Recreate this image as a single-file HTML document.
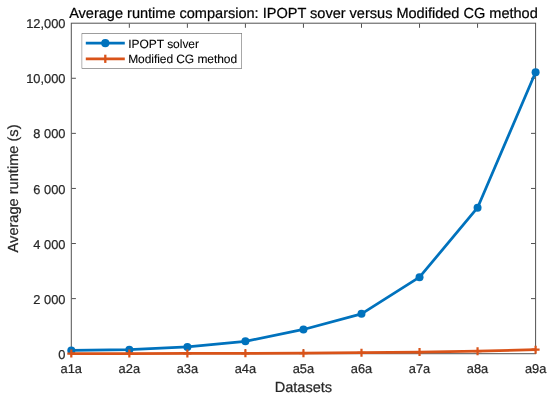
<!DOCTYPE html>
<html><head><meta charset="utf-8"><title>Average runtime comparison</title>
<style>html,body{margin:0;padding:0;background:#fff;width:550px;height:402px;overflow:hidden}</style></head>
<body>
<svg width="550" height="402" viewBox="0 0 550 402" style="position:absolute;left:0;top:0;font-family:'Liberation Sans',sans-serif;text-rendering:geometricPrecision;stroke-width:0.22px;paint-order:stroke">
<rect x="0" y="0" width="550" height="402" fill="#fff"/>
<rect x="71.3" y="23.2" width="464.3" height="330.5" fill="none" stroke="#262626" stroke-width="1" opacity="0.8"/>
<text x="71.30" y="373" font-size="12.85" fill="#262626" stroke="#262626" text-anchor="middle">a1a</text>
<line x1="129.34" y1="353.2" x2="129.34" y2="349.09999999999997" stroke="#262626" stroke-width="1" opacity="0.8"/>
<line x1="129.34" y1="23.7" x2="129.34" y2="27.799999999999997" stroke="#262626" stroke-width="1" opacity="0.8"/>
<text x="129.34" y="373" font-size="12.85" fill="#262626" stroke="#262626" text-anchor="middle">a2a</text>
<line x1="187.38" y1="353.2" x2="187.38" y2="349.09999999999997" stroke="#262626" stroke-width="1" opacity="0.8"/>
<line x1="187.38" y1="23.7" x2="187.38" y2="27.799999999999997" stroke="#262626" stroke-width="1" opacity="0.8"/>
<text x="187.38" y="373" font-size="12.85" fill="#262626" stroke="#262626" text-anchor="middle">a3a</text>
<line x1="245.41" y1="353.2" x2="245.41" y2="349.09999999999997" stroke="#262626" stroke-width="1" opacity="0.8"/>
<line x1="245.41" y1="23.7" x2="245.41" y2="27.799999999999997" stroke="#262626" stroke-width="1" opacity="0.8"/>
<text x="245.41" y="373" font-size="12.85" fill="#262626" stroke="#262626" text-anchor="middle">a4a</text>
<line x1="303.45" y1="353.2" x2="303.45" y2="349.09999999999997" stroke="#262626" stroke-width="1" opacity="0.8"/>
<line x1="303.45" y1="23.7" x2="303.45" y2="27.799999999999997" stroke="#262626" stroke-width="1" opacity="0.8"/>
<text x="303.45" y="373" font-size="12.85" fill="#262626" stroke="#262626" text-anchor="middle">a5a</text>
<line x1="361.49" y1="353.2" x2="361.49" y2="349.09999999999997" stroke="#262626" stroke-width="1" opacity="0.8"/>
<line x1="361.49" y1="23.7" x2="361.49" y2="27.799999999999997" stroke="#262626" stroke-width="1" opacity="0.8"/>
<text x="361.49" y="373" font-size="12.85" fill="#262626" stroke="#262626" text-anchor="middle">a6a</text>
<line x1="419.53" y1="353.2" x2="419.53" y2="349.09999999999997" stroke="#262626" stroke-width="1" opacity="0.8"/>
<line x1="419.53" y1="23.7" x2="419.53" y2="27.799999999999997" stroke="#262626" stroke-width="1" opacity="0.8"/>
<text x="419.53" y="373" font-size="12.85" fill="#262626" stroke="#262626" text-anchor="middle">a7a</text>
<line x1="477.56" y1="353.2" x2="477.56" y2="349.09999999999997" stroke="#262626" stroke-width="1" opacity="0.8"/>
<line x1="477.56" y1="23.7" x2="477.56" y2="27.799999999999997" stroke="#262626" stroke-width="1" opacity="0.8"/>
<text x="477.56" y="373" font-size="12.85" fill="#262626" stroke="#262626" text-anchor="middle">a8a</text>
<text x="535.60" y="373" font-size="12.85" fill="#262626" stroke="#262626" text-anchor="middle">a9a</text>
<text x="65.5" y="358.80" font-size="12.85" fill="#262626" stroke="#262626" text-anchor="end">0</text>
<line x1="71.8" y1="298.62" x2="75.89999999999999" y2="298.62" stroke="#262626" stroke-width="1" opacity="0.8"/>
<line x1="535.1" y1="298.62" x2="531.0" y2="298.62" stroke="#262626" stroke-width="1" opacity="0.8"/>
<text x="65.5" y="303.72" font-size="12.85" fill="#262626" stroke="#262626" text-anchor="end">2 000</text>
<line x1="71.8" y1="243.53" x2="75.89999999999999" y2="243.53" stroke="#262626" stroke-width="1" opacity="0.8"/>
<line x1="535.1" y1="243.53" x2="531.0" y2="243.53" stroke="#262626" stroke-width="1" opacity="0.8"/>
<text x="65.5" y="248.63" font-size="12.85" fill="#262626" stroke="#262626" text-anchor="end">4 000</text>
<line x1="71.8" y1="188.45" x2="75.89999999999999" y2="188.45" stroke="#262626" stroke-width="1" opacity="0.8"/>
<line x1="535.1" y1="188.45" x2="531.0" y2="188.45" stroke="#262626" stroke-width="1" opacity="0.8"/>
<text x="65.5" y="193.55" font-size="12.85" fill="#262626" stroke="#262626" text-anchor="end">6 000</text>
<line x1="71.8" y1="133.37" x2="75.89999999999999" y2="133.37" stroke="#262626" stroke-width="1" opacity="0.8"/>
<line x1="535.1" y1="133.37" x2="531.0" y2="133.37" stroke="#262626" stroke-width="1" opacity="0.8"/>
<text x="65.5" y="138.47" font-size="12.85" fill="#262626" stroke="#262626" text-anchor="end">8 000</text>
<line x1="71.8" y1="78.28" x2="75.89999999999999" y2="78.28" stroke="#262626" stroke-width="1" opacity="0.8"/>
<line x1="535.1" y1="78.28" x2="531.0" y2="78.28" stroke="#262626" stroke-width="1" opacity="0.8"/>
<text x="65.5" y="83.38" font-size="12.85" fill="#262626" stroke="#262626" text-anchor="end">10,000</text>
<text x="65.5" y="28.30" font-size="12.85" fill="#262626" stroke="#262626" text-anchor="end">12,000</text>
<text x="303.45" y="18.2" font-size="14.55" textLength="468.6" fill="#000" stroke="#000" text-anchor="middle">Average runtime comparsion: IPOPT sover versus Modifided CG method</text>
<text x="303.45" y="391.5" font-size="14.55" fill="#262626" stroke="#262626" text-anchor="middle">Datasets</text>
<text transform="translate(18,188.45) rotate(-90)" font-size="14.6" fill="#262626" stroke="#262626" text-anchor="middle">Average runtime (s)</text>
<polyline points="71.30,350.45 129.34,349.71 187.38,346.90 245.41,341.31 303.45,329.46 361.49,313.82 419.53,277.19 477.56,207.73 535.60,72.22" fill="none" stroke="#0072BD" stroke-width="2.75" stroke-linejoin="round"/>
<circle cx="71.30" cy="350.45" r="4" fill="#0072BD"/>
<circle cx="129.34" cy="349.71" r="4" fill="#0072BD"/>
<circle cx="187.38" cy="346.90" r="4" fill="#0072BD"/>
<circle cx="245.41" cy="341.31" r="4" fill="#0072BD"/>
<circle cx="303.45" cy="329.46" r="4" fill="#0072BD"/>
<circle cx="361.49" cy="313.82" r="4" fill="#0072BD"/>
<circle cx="419.53" cy="277.19" r="4" fill="#0072BD"/>
<circle cx="477.56" cy="207.73" r="4" fill="#0072BD"/>
<circle cx="535.60" cy="72.22" r="4" fill="#0072BD"/>
<polyline points="71.30,353.56 129.34,353.51 187.38,353.42 245.41,353.31 303.45,353.15 361.49,352.74 419.53,352.05 477.56,351.22 535.60,349.71" fill="none" stroke="#D95319" stroke-width="2.75" stroke-linejoin="round"/>
<path d="M67.30 353.56H75.30M71.30 349.56V357.56" stroke="#D95319" stroke-width="2.2" fill="none"/>
<path d="M125.34 353.51H133.34M129.34 349.51V357.51" stroke="#D95319" stroke-width="2.2" fill="none"/>
<path d="M183.38 353.42H191.38M187.38 349.42V357.42" stroke="#D95319" stroke-width="2.2" fill="none"/>
<path d="M241.41 353.31H249.41M245.41 349.31V357.31" stroke="#D95319" stroke-width="2.2" fill="none"/>
<path d="M299.45 353.15H307.45M303.45 349.15V357.15" stroke="#D95319" stroke-width="2.2" fill="none"/>
<path d="M357.49 352.74H365.49M361.49 348.74V356.74" stroke="#D95319" stroke-width="2.2" fill="none"/>
<path d="M415.53 352.05H423.53M419.53 348.05V356.05" stroke="#D95319" stroke-width="2.2" fill="none"/>
<path d="M473.56 351.22H481.56M477.56 347.22V355.22" stroke="#D95319" stroke-width="2.2" fill="none"/>
<path d="M531.60 349.71H539.60M535.60 345.71V353.71" stroke="#D95319" stroke-width="2.2" fill="none"/>
<rect x="82.2" y="33.7" width="159.3" height="34.4" fill="#fff" stroke="#262626" stroke-width="1" opacity="0.8"/>
<line x1="85.8" y1="43.2" x2="124.8" y2="43.2" stroke="#0072BD" stroke-width="2.75"/>
<circle cx="105.3" cy="43.2" r="4.1" fill="#0072BD"/>
<text x="128.2" y="47.6" font-size="12" textLength="70.8" fill="#000" stroke="#000" stroke-width="0.08">IPOPT solver</text>
<line x1="85.8" y1="58.8" x2="124.8" y2="58.8" stroke="#D95319" stroke-width="2.75"/>
<path d="M105.3 54.7V62.9" stroke="#D95319" stroke-width="2.3"/>
<text x="128.2" y="63.4" font-size="12" textLength="108.9" fill="#000" stroke="#000" stroke-width="0.08">Modified CG method</text>
</svg>
</body></html>
